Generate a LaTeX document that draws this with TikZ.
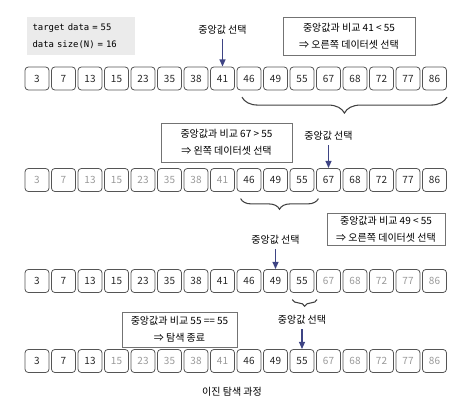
\documentclass[tikz,border=0pt]{standalone}
\usepackage{fontspec}
\setmainfont{Noto Sans CJK KR}
\setmonofont{DejaVu Sans Mono}
\usetikzlibrary{arrows.meta, decorations.pathreplacing, positioning}

\definecolor{pointer}{RGB}{62,68,132}
\definecolor{edgegray}{RGB}{85,85,85}

\tikzset{
  cell/.style={draw=edgegray, line width=0.6pt, rounded corners=2.5pt, minimum width=18pt, minimum height=17.25pt, inner sep=0pt, font=\fontsize{7.5}{9}\selectfont},
  kept/.style={text=black!85},
  faded/.style={text=black!40},
  infobox/.style={draw=black!55, line width=0.5pt, fill=white, align=center, inner sep=0pt, font=\fontsize{7.5}{12.5}\selectfont},
  pick/.style={font=\fontsize{7.5}{9}\selectfont},
  pickarrow/.style={draw=pointer, line width=1.1pt, -{Triangle[width=4.5pt,length=5.5pt]}},
  halfbrace/.style={draw=black!75, line width=0.8pt, decorate},
}

\begin{document}
\begin{tikzpicture}[x=0.75pt,y=-0.75pt]
\useasboundingbox (0,0) rectangle (474,419);

% given values
\node[fill=black!8, anchor=north west, minimum width=81pt, minimum height=28.5pt, text width=73pt, inner xsep=4pt, align=left, font=\ttfamily\fontsize{6.7}{12.5}\selectfont] (given) at (27,17) {target data = 55\\data size(N) = 16};

% step 1
\foreach \v [count=\i] in {3,7,13,15,23,35,38,41,46,49,55,67,68,72,77,86}
  \node[cell,kept] (a\i) at ({37+(\i-1)*26.5},78.5) {\v};
\node[pick, above=21pt of a8] (pick1) {중앙값 선택};
\draw[pickarrow] (pick1) -- (a8);
\node[infobox, minimum width=99pt, minimum height=28.5pt] (note1) at (349,36) {중앙값과 비교 41 < 55\\⇒ 오른쪽 데이터셋 선택};
\draw[halfbrace, decoration={brace, mirror, amplitude=12pt}] ([xshift=4pt,yshift=-5pt]a9.south west) -- ([yshift=-5pt]a16.south east);

% step 2
\foreach \v/\s [count=\i] in {3/faded,7/faded,13/faded,15/faded,23/faded,35/faded,38/faded,41/faded,46/kept,49/kept,55/kept,67/kept,68/kept,72/kept,77/kept,86/kept}
  \node[cell,\s] (b\i) at ({37+(\i-1)*26.5},180) {\v};
\node[pick, above=17pt of b12] (pick2) {중앙값 선택};
\draw[pickarrow] (pick2) -- (b12);
\node[infobox, minimum width=98pt, minimum height=29pt] (note2) at (226.5,142.5) {중앙값과 비교 67 > 55\\⇒ 왼쪽 데이터셋 선택};
\draw[halfbrace, decoration={brace, mirror, amplitude=8pt}] ([xshift=3pt,yshift=-5pt]b9.south west) -- ([xshift=3pt,yshift=-5pt]b11.south east);

% step 3
\foreach \v/\s [count=\i] in {3/kept,7/kept,13/kept,15/kept,23/kept,35/kept,38/kept,41/kept,46/kept,49/kept,55/kept,67/faded,68/faded,72/faded,77/faded,86/faded}
  \node[cell,\s] (c\i) at ({37+(\i-1)*26.5},281) {\v};
\node[pick, above=15pt of c10] (pick3) {중앙값 선택};
\draw[pickarrow] (pick3) -- (c10);
\node[infobox, minimum width=88.5pt, minimum height=24pt] (note3) at (386,229) {중앙값과 비교 49 < 55\\⇒ 오른쪽 데이터셋 선택};
\draw[halfbrace, decoration={brace, mirror, amplitude=5pt}] ([xshift=2pt,yshift=-5pt]c11.south west) -- ([xshift=2pt,yshift=-5pt]c11.south east);

% step 4
\foreach \v/\s [count=\i] in {3/kept,7/kept,13/kept,15/faded,23/faded,35/faded,38/faded,41/faded,46/kept,49/kept,55/kept,67/faded,68/faded,72/faded,77/faded,86/faded}
  \node[cell,\s] (d\i) at ({37+(\i-1)*26.5},361) {\v};
\node[pick, above=15pt of d11] (pick4) {중앙값 선택};
\draw[pickarrow] (pick4) -- (d11);
\node[infobox, minimum width=86pt, minimum height=26pt] (note4) at (179.5,329.5) {중앙값과 비교 55 == 55\\⇒ 탐색 종료};

\node[pick] (caption) at (232,392) {이진 탐색 과정};
\end{tikzpicture}
\end{document}
